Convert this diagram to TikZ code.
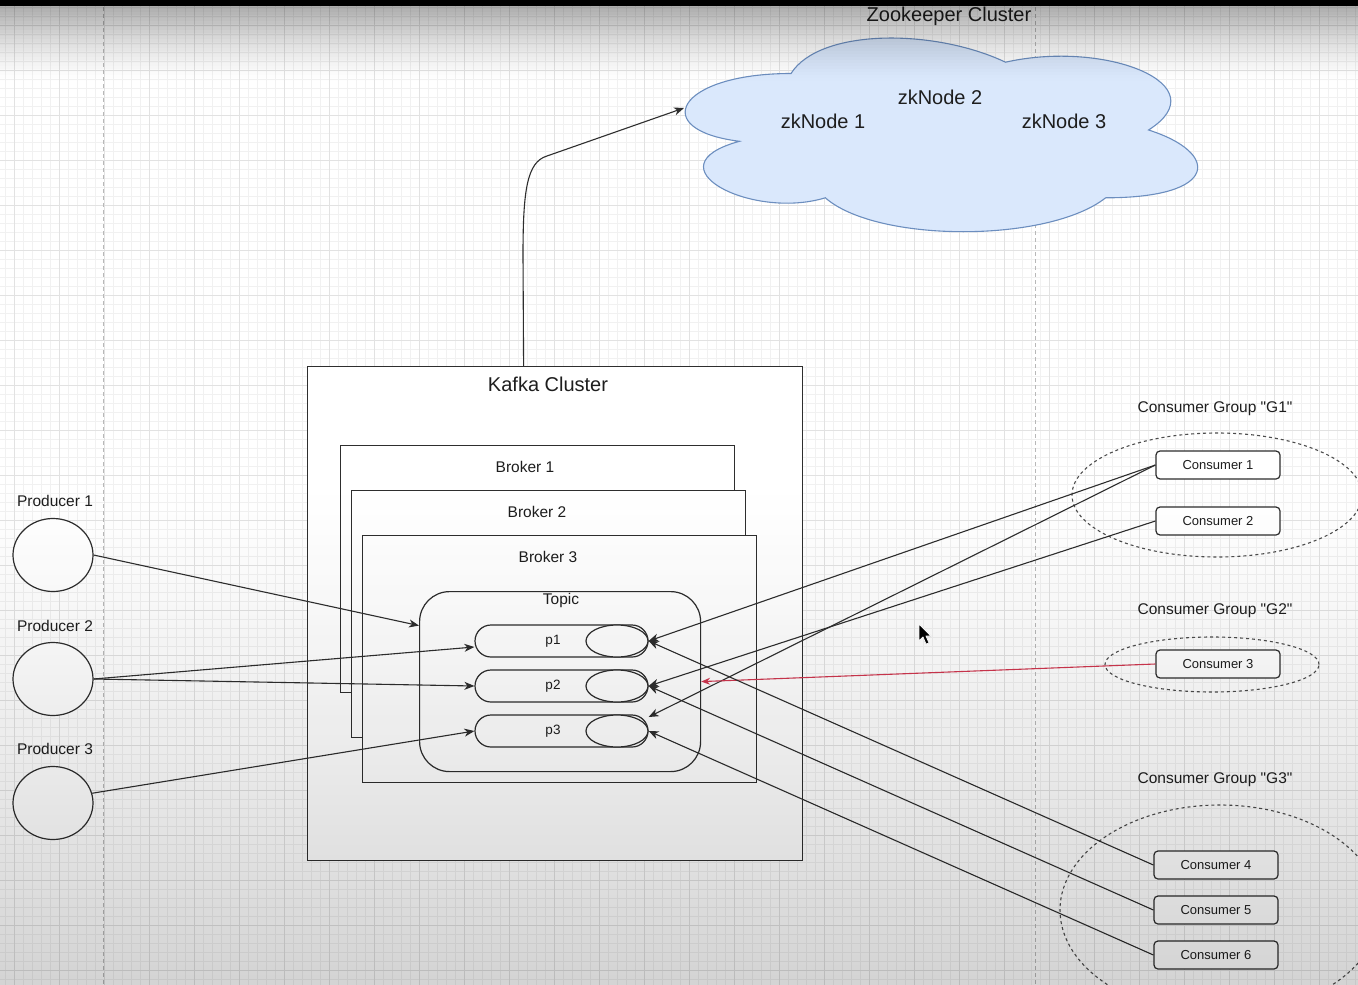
\documentclass[tikz,border=0pt]{standalone}
\usepackage{fontspec}
\setmainfont{Liberation Sans}
\usetikzlibrary{arrows.meta,shapes.geometric}
\definecolor{ink}{HTML}{1E1E1E}
\definecolor{edgec}{HTML}{2E2E2E}
\definecolor{cloudfill}{HTML}{DAE8FC}
\definecolor{cloudline}{HTML}{6C8EBF}
\definecolor{redline}{HTML}{D0364F}
\definecolor{gridminor}{HTML}{F1F1F1}
\definecolor{gridmajor}{HTML}{E2E2E2}
\begin{document}
\begin{tikzpicture}[x=1pt,y=-1pt,
  every node/.style={text=ink, inner sep=0pt},
  shp/.style={draw=edgec, line width=1.2pt, fill=white},
  link/.style={draw=edgec, line width=1.1pt, -{Stealth[length=10pt,width=8pt,inset=3pt]}},
  redlink/.style={draw=redline, line width=1.1pt, -{Stealth[length=9pt,width=7pt,inset=3pt]}},
  grp/.style={ellipse, draw=black!70, line width=1.1pt, dash pattern=on 3pt off 3pt},
  cons/.style={shp, rounded corners=4pt, minimum width=124pt, minimum height=28pt},
  part/.style={shp, rounded corners=16pt, minimum width=173pt, minimum height=32pt},
  partend/.style={shp, ellipse, minimum width=62pt, minimum height=32pt},
  prod/.style={shp, ellipse, minimum width=80pt, minimum height=73pt},
  brokerbox/.style={shp, anchor=north west, minimum width=394pt, minimum height=247pt},
  bigtxt/.style={font=\fontsize{20}{24}\selectfont},
  midtxt/.style={font=\fontsize{15.5}{18}\selectfont},
  smalltxt/.style={font=\fontsize{13.5}{16}\selectfont},
  constxt/.style={font=\fontsize{13}{15}\selectfont}
]
\useasboundingbox (0,0) rectangle (1358,985);
\clip (0,0) rectangle (1358,985);
% background and grid
\fill[white] (0,0) rectangle (1358,985);
\foreach \k in {0,...,150} \draw[gridminor, line width=0.6pt] ({5+9*\k},0) -- ({5+9*\k},985);
\foreach \k in {0,...,109} \draw[gridminor, line width=0.6pt] (0,{7+9*\k}) -- (1358,{7+9*\k});
\foreach \k in {0,...,30} \draw[gridmajor, line width=0.9pt] ({14+45*\k},0) -- ({14+45*\k},985);
\foreach \k in {0,...,21} \draw[gridmajor, line width=0.9pt] (0,{25+45*\k}) -- (1358,{25+45*\k});
\draw[black!28, dash pattern=on 4pt off 3pt, line width=0.8pt] (103,0) -- (103,985);
\draw[black!28, dash pattern=on 4pt off 3pt, line width=0.8pt] (1035,0) -- (1035,985);

% Zookeeper cloud
\draw[fill=cloudfill, draw=cloudline, line width=1.1pt]
  (791,73.5) .. controls (676.6,73.5) and (648,130) .. (739.5,141.3)
  .. controls (648,166.2) and (751,220.4) .. (825.3,197.8)
  .. controls (876.8,243) and (1048.4,243) .. (1105.6,197.8)
  .. controls (1220,197.8) and (1220,152.6) .. (1148.5,130)
  .. controls (1220,84.8) and (1105.6,39.6) .. (1005.5,62.2)
  .. controls (934,28.3) and (819.6,28.3) .. (791,73.5) -- cycle;
\coordinate (zkin) at (684,108);
\node[bigtxt] (zk1) at (823,121) {zkNode 1};
\node[bigtxt] (zk2) at (940,97) {zkNode 2};
\node[bigtxt] (zk3) at (1064,121) {zkNode 3};
\node[bigtxt, anchor=base] (zklab) at (949,21) {Zookeeper Cluster};

% Kafka cluster
\node[shp, anchor=north west, minimum width=495pt, minimum height=494pt] (kafka) at (307,366) {};
\node[bigtxt] (kafkalab) at (548,384) {Kafka Cluster};
\node[brokerbox] (b1) at (340,445) {};
\node[brokerbox] (b2) at (351,490) {};
\node[brokerbox] (b3) at (362,535) {};
\node[midtxt] (b1lab) at (525,467) {Broker 1};
\node[midtxt] (b2lab) at (537,512) {Broker 2};
\node[midtxt] (b3lab) at (548,557) {Broker 3};
\node[shp, anchor=north west, rounded corners=30pt, minimum width=281pt, minimum height=180pt] (topic) at (419,591) {};
\node[midtxt] (topiclab) at (561,600) {Topic};
\node[part] (p1) at (561.5,641) {};
\node[part] (p2) at (561.5,686) {};
\node[part] (p3) at (561.5,731) {};
\node[partend] (p1e) at (617,641) {};
\node[partend] (p2e) at (617,686) {};
\node[partend] (p3e) at (617,731) {};
\node[smalltxt] (p1lab) at (553,641) {p1};
\node[smalltxt] (p2lab) at (553,686) {p2};
\node[smalltxt] (p3lab) at (553,731) {p3};

% Producers
\node[prod] (prod1) at (53,555) {};
\node[prod] (prod2) at (53,679) {};
\node[prod] (prod3) at (53,803) {};
\node[midtxt] (prod1lab) at (55,501) {Producer 1};
\node[midtxt] (prod2lab) at (55,626) {Producer 2};
\node[midtxt] (prod3lab) at (55,749) {Producer 3};

% Consumer groups
\node[grp, minimum width=290pt, minimum height=124pt] (g1) at (1217,495) {};
\node[grp, minimum width=214pt, minimum height=55pt] (g2) at (1212,664.5) {};
\node[grp, minimum width=320pt, minimum height=210pt] (g3) at (1220,910) {};
\node[midtxt, anchor=base] (g1lab) at (1215,412) {Consumer Group \textquotedbl G1\textquotedbl};
\node[midtxt, anchor=base] (g2lab) at (1215,614) {Consumer Group \textquotedbl G2\textquotedbl};
\node[midtxt, anchor=base] (g3lab) at (1215,783) {Consumer Group \textquotedbl G3\textquotedbl};
\node[cons, constxt] (c1) at (1218,465) {Consumer 1};
\node[cons, constxt] (c2) at (1218,521) {Consumer 2};
\node[cons, constxt] (c3) at (1218,664) {Consumer 3};
\node[cons, constxt] (c4) at (1216,865) {Consumer 4};
\node[cons, constxt] (c5) at (1216,910) {Consumer 5};
\node[cons, constxt] (c6) at (1216,955) {Consumer 6};

% Connectors
\coordinate (kt) at ([xshift=-31.5pt]kafka.north);
\draw[link] (kt) -- (523,255) .. controls (523,190) and (527,162) .. (547,156) -- (zkin);
\draw[link] (prod1.east) -- ([yshift=56pt]topic.west);
\draw[link] (prod2.east) -- ([yshift=-6pt]p1.west);
\draw[link] (prod2.east) -- (p2.west);
\draw[link] (prod3.14) -- (p3.west);
\draw[link] (c1.west) -- (p1.east);
\draw[link] (c1.west) -- ([yshift=14pt]p3.east);
\draw[link] (c2.west) -- (p2.east);
\draw[redlink] (c3.west) -- (topic.east);
\draw[link] (c4.west) -- (p1.east);
\draw[link] (c5.west) -- (p2.east);
\draw[link] (c6.west) -- (p3.east);

% mouse cursor
\draw[fill=black, draw=white, line width=0.8pt, line join=round]
  (919,624) -- (919,641) -- (923,637) -- (926,644) -- (929,643) -- (926,636) -- (931,636) -- cycle;

% screen shading
\foreach \i in {0,...,24} {
  \pgfmathsetmacro{\op}{0.32*(1-\i/25)^1.4}
  \fill[black, fill opacity=\op] (0,{6+3*\i}) rectangle (1358,{9+3*\i});
}
\foreach \i in {0,...,49} {
  \pgfmathsetmacro{\op}{0.17*((\i+0.5)/50)^1.2}
  \fill[black, fill opacity=\op] (0,{485+10*\i}) rectangle (1358,{495+10*\i});
}
\fill[black] (0,0) rectangle (1358,6);
\end{tikzpicture}
\end{document}
